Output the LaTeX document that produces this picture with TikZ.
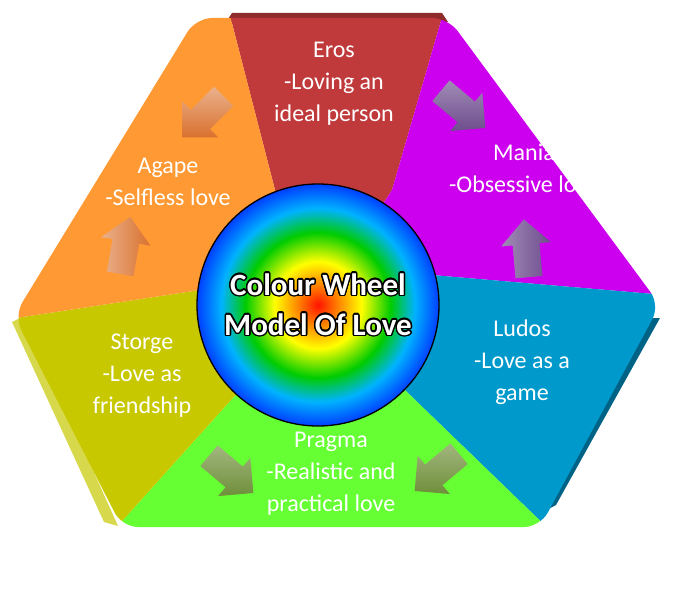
\documentclass[tikz,border=0pt]{standalone}
\usepackage{fontspec}
\setmainfont{Carlito}
\usepackage[copies]{contour}
\contourlength{1.4pt}
\usetikzlibrary{shapes.arrows}
\definecolor{eros}{HTML}{C0393B}
\definecolor{mania}{HTML}{CC00EE}
\definecolor{ludos}{HTML}{0099CC}
\definecolor{pragma}{HTML}{66FF33}
\definecolor{storge}{HTML}{C8C800}
\definecolor{agape}{HTML}{FF9933}
\definecolor{oarr}{HTML}{D9712E}
\definecolor{parr}{HTML}{6E4D8E}
\definecolor{garr}{HTML}{6F8F3A}
\pgfdeclareradialshading{wheel}{\pgfpoint{0bp}{0bp}}{color(0bp)=(red!85!orange); color(4bp)=(orange); color(9bp)=(yellow); color(15bp)=(green!80!black); color(20bp)=(cyan!70!blue); color(25bp)=(blue!75!cyan); color(50bp)=(blue!75!cyan)}
\tikzset{
  lbl/.style={text=white, align=center, font=\fontsize{24}{32}\selectfont},
  barrow/.style={single arrow, draw=none, minimum height=58pt, minimum width=50pt, single arrow head extend=7pt, inner sep=8pt},
}
\begin{document}
\begin{tikzpicture}[x=1pt,y=-1pt]
\useasboundingbox (0,0) rectangle (691,599);
\coordinate (C) at (318,305);
% bevels
\fill[eros!75!black] (226,22) -- (232,13) -- (442,13) -- (448,22) -- cycle;
\fill[storge!70!white] (12,322) -- (24,316) -- (118,526) -- (104,522) -- cycle;
\fill[ludos!65!black] (648,318) -- (660,318) -- (556,505) -- (543,512) -- cycle;
\begin{scope}
\clip[rounded corners=16pt] (196,18) -- (448,18) -- (660,305) -- (540,527) -- (122,527) -- (14,316) -- cycle;
\fill[eros] (C) -- (275,190) -- (226,0) -- (447,0) -- (392,190) -- cycle;
\fill[mania] (C) -- (392,190) -- (447,0) -- (700,0) -- (700,298) -- (432,275) -- cycle;
\fill[ludos] (C) -- (432,275) -- (700,298) -- (700,560) -- (560,540) -- (410,395) -- cycle;
\fill[pragma] (C) -- (410,395) -- (560,540) -- (105,540) -- (240,390) -- cycle;
\fill[storge] (C) -- (240,390) -- (105,540) -- (-10,560) -- (-10,322) -- (200,290) -- cycle;
\fill[agape] (C) -- (200,290) -- (-10,322) -- (-10,-20) -- (226,0) -- (275,190) -- cycle;
\end{scope}
% labels
\node[lbl] (mania) at (524,168) {Mania\\-Obsessive love};
% arrows
\node[barrow, shading=axis, top color=oarr!55!white, bottom color=oarr, rotate=225] (a1) at (208,112) {};
\node[barrow, shading=axis, left color=oarr!55!white, right color=oarr, rotate=80] (a2) at (124,252) {};
\node[barrow, shading=axis, top color=parr!65!white, bottom color=parr, rotate=-40] (a3) at (458,105) {};
\node[barrow, shading=axis, left color=parr!65!white, right color=parr, rotate=95] (a4) at (527,255) {};
\node[barrow, shading=axis, top color=garr!65!white, bottom color=garr, rotate=-40] (a5) at (226,470) {};
\node[barrow, shading=axis, top color=garr!65!white, bottom color=garr, rotate=220] (a6) at (442,468) {};
% centre
\node[circle, draw=black, line width=1.3pt, minimum width=242pt, shading=wheel] (w) at (C) {};
\node[text=white, align=center, font=\bfseries\fontsize{31}{40}\selectfont] (wt) at (C) {\contour{black}{Colour Wheel}\\\contour{black}{Model Of Love}};
\node[lbl] (eros) at (334,84) {Eros\\-Loving an\\ideal person};
\node[lbl] (agape) at (168,182) {Agape\\-Selfless love};
\node[lbl] (ludos) at (522,362) {Ludos\\-Love as a\\game};
\node[lbl] (pragma) at (331,474) {Pragma\\-Realistic and\\practical love};
\node[lbl] (storge) at (142,376) {Storge\\-Love as\\friendship};
\end{tikzpicture}
\end{document}
